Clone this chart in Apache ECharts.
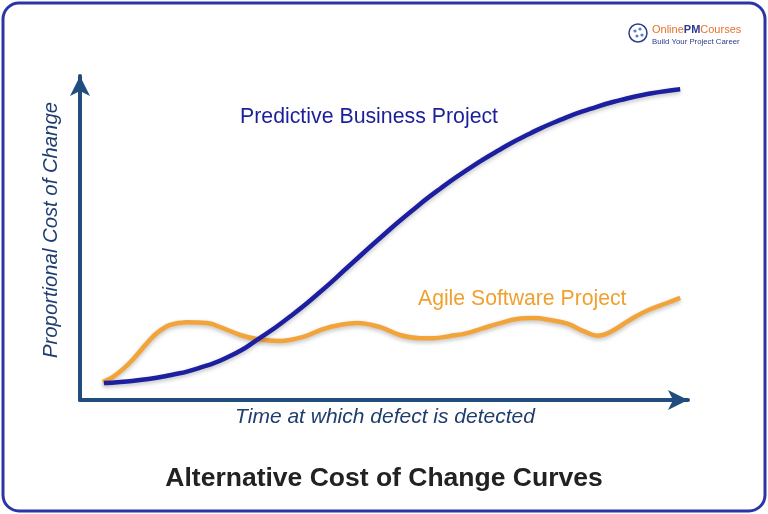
<!DOCTYPE html>
<html>
<head>
<meta charset="utf-8">
<script src="https://cdn.jsdelivr.net/npm/echarts@6/dist/echarts.min.js"></script>
<style>
html,body{margin:0;padding:0;background:#fff;}
#chart{width:768px;height:514px;}
</style>
</head>
<body>
<div id="chart"></div>
<script>
// Data (x: time 0..100, y: proportional cost 0..100)
var predictiveX = [4, 10, 15, 20, 25, 30, 35, 40, 45, 50, 55, 60, 65, 70, 75, 80, 85, 90, 95, 100];
var predictiveY = [5.4, 6.4, 7.9, 10.3, 14.0, 19.8, 26.6, 34.4, 43.0, 51.6, 59.8, 67.3, 73.9, 79.8, 84.9, 89.2, 92.7, 95.5, 97.6, 99.0];
var agileX = [3.8, 5.5, 7.2, 8.8, 11.2, 12.8, 15.0, 17.8, 21.2, 23.8, 26.7, 29.5, 33.3, 37.2, 40.5, 43.3, 46.2, 50.0, 53.3, 56.7, 58.8, 61.7, 64.5, 67.2, 70.0, 72.8, 75.5, 78.3, 81.2, 83.8, 86.2, 88.3, 90.3, 92.5, 95.0, 97.8, 100];
var agileY = [5.7, 7.4, 9.9, 12.9, 18.2, 21.3, 23.9, 24.8, 24.5, 22.9, 20.7, 19.4, 18.8, 20.1, 22.6, 23.9, 24.5, 23.2, 20.7, 19.7, 19.7, 20.4, 21.3, 22.9, 24.5, 25.8, 26.1, 25.5, 24.3, 22.0, 20.5, 21.6, 23.9, 26.5, 28.9, 30.9, 32.5];

var titleText = 'Alternative Cost of Change Curves';
var xAxisName = 'Time at which defect is detected';
var yAxisName = 'Proportional Cost of Change';
var predictiveName = 'Predictive Business Project';
var agileName = 'Agile Software Project';

function pairs(xs, ys){ return xs.map(function(x,i){ return [x, ys[i]]; }); }

var chart = echarts.init(document.getElementById('chart'));
var axisColor = '#1f4e7c';
var font = '"Liberation Sans", Arial, Helvetica, sans-serif';

chart.setOption({
  animation: false,
  backgroundColor: '#ffffff',
  grid: { left: 80, right: 80, top: 76, bottom: 114 },
  xAxis: {
    type: 'value', min: 0, max: 101.3,
    axisLine: { show: true, lineStyle: { color: axisColor, width: 4 }, symbol: ['none', 'arrow'], symbolSize: [15, 20] },
    axisTick: { show: false }, axisLabel: { show: false }, splitLine: { show: false }
  },
  yAxis: {
    type: 'value', min: 0, max: 103.2,
    axisLine: { show: true, lineStyle: { color: axisColor, width: 4 }, symbol: ['none', 'arrow'], symbolSize: [15, 20] },
    axisTick: { show: false }, axisLabel: { show: false }, splitLine: { show: false }
  },
  series: [
    {
      name: agileName, type: 'line', smooth: 0.4, symbol: 'none',
      data: pairs(agileX, agileY),
      lineStyle: { color: '#f2a43a', width: 4.5, shadowColor: 'rgba(0,0,0,0.25)', shadowBlur: 4, shadowOffsetY: 2 },
      z: 3
    },
    {
      name: predictiveName, type: 'line', smooth: 0.6, symbol: 'none',
      data: pairs(predictiveX, predictiveY),
      lineStyle: { color: '#1c1fa0', width: 4.5, shadowColor: 'rgba(0,0,0,0.25)', shadowBlur: 4, shadowOffsetY: 2 },
      z: 4
    }
  ],
  graphic: [
    { type: 'rect', shape: { x: 3, y: 3, width: 762, height: 508, r: 16 }, style: { fill: 'none', stroke: '#2b35a8', lineWidth: 3 }, z: 10 },
    { type: 'text', x: 384, y: 479, style: { text: titleText, font: 'bold 26.5px ' + font, fill: '#222222', align: 'center', verticalAlign: 'middle' } },
    { type: 'text', x: 385, y: 417, style: { text: xAxisName, font: 'italic 21px ' + font, fill: '#1f3d6e', align: 'center', verticalAlign: 'middle' } },
    { type: 'text', x: 51, y: 230, rotation: Math.PI / 2, style: { text: yAxisName, font: 'italic 20.3px ' + font, fill: '#1f3d6e', align: 'center', verticalAlign: 'middle' } },
    { type: 'text', x: 240, y: 117, style: { text: predictiveName, font: '21.3px ' + font, fill: '#1c1f9a', align: 'left', verticalAlign: 'middle' } },
    { type: 'text', x: 418, y: 299, style: { text: agileName, font: '21.2px ' + font, fill: '#f0a030', align: 'left', verticalAlign: 'middle' } },
    // logo
    { type: 'circle', shape: { cx: 638, cy: 33, r: 9 }, style: { fill: 'none', stroke: '#2c3e8c', lineWidth: 1.5 } },
    { type: 'circle', shape: { cx: 635, cy: 31, r: 1.6 }, style: { fill: '#5a7fc8' } },
    { type: 'circle', shape: { cx: 640, cy: 29, r: 1.6 }, style: { fill: '#5a7fc8' } },
    { type: 'circle', shape: { cx: 637, cy: 36, r: 1.6 }, style: { fill: '#5a7fc8' } },
    { type: 'circle', shape: { cx: 642, cy: 35, r: 1.6 }, style: { fill: '#5a7fc8' } },
    { type: 'text', x: 652, y: 30, style: {
        text: '{a|Online}{b|PM}{a|Courses}',
        verticalAlign: 'middle',
        rich: {
          a: { font: '11px ' + font, fill: '#e8702a' },
          b: { font: 'bold 11px ' + font, fill: '#2b3a8c' }
        }
      } },
    { type: 'text', x: 652, y: 42, style: { text: 'Build Your Project Career', font: '7.8px ' + font, fill: '#2b3a8c', verticalAlign: 'middle' } }
  ]
});
</script>
</body>
</html>
